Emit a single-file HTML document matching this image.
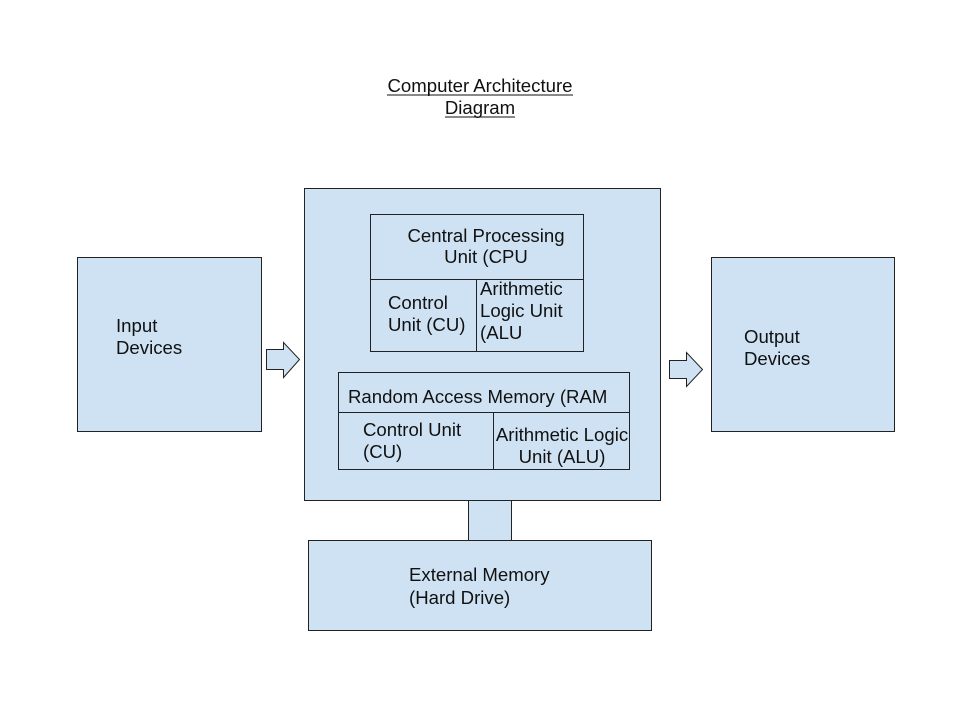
<!DOCTYPE html>
<html><head><meta charset="utf-8"><style>
html,body{margin:0;padding:0;background:#fff;}
svg{display:block;}
text{font-family:"Liberation Sans",Arial,sans-serif;font-size:18.6px;fill:#111;}
</style></head><body>
<svg width="960" height="720" viewBox="0 0 960 720" xmlns="http://www.w3.org/2000/svg">
<g stroke="#222" stroke-width="1" fill="#cfe2f3">
<rect x="304.5" y="188.5" width="356" height="312"/>
<rect x="370.5" y="214.5" width="213" height="137"/>
<line x1="370.5" y1="279.5" x2="583.5" y2="279.5"/>
<line x1="476.5" y1="279.5" x2="476.5" y2="351.5"/>
<rect x="338.5" y="372.5" width="291" height="97"/>
<line x1="338.5" y1="412.5" x2="629.5" y2="412.5"/>
<line x1="493.5" y1="412.5" x2="493.5" y2="469.5"/>
<rect x="468.5" y="500.5" width="43" height="40"/>
<rect x="308.5" y="540.5" width="343" height="90"/>
<rect x="77.5" y="257.5" width="184" height="174"/>
<rect x="711.5" y="257.5" width="183" height="174"/>
<polygon points="266.5,349.5 283.5,349.5 283.5,342.5 299.5,359.5 283.5,377.5 283.5,369.5 266.5,369.5"/>
<polygon points="669.5,360.5 686.5,360.5 686.5,352.5 702.5,369.5 686.5,386.5 686.5,378.5 669.5,378.5"/>
</g>
<text x="480" y="92" text-anchor="middle">Computer Architecture</text>
<text x="480" y="114" text-anchor="middle">Diagram</text>
<line x1="387" y1="95" x2="573" y2="95" stroke="#111" stroke-width="1"/>
<line x1="445" y1="117" x2="515" y2="117" stroke="#111" stroke-width="1"/>
<text x="486" y="242" text-anchor="middle">Central Processing</text>
<text x="486" y="263" text-anchor="middle">Unit (CPU</text>
<text x="388" y="309">Control</text>
<text x="388" y="331">Unit (CU)</text>
<text x="480" y="295">Arithmetic</text>
<text x="480" y="317">Logic Unit</text>
<text x="480" y="339">(ALU</text>
<text x="348" y="403">Random Access Memory (RAM</text>
<text x="363" y="436">Control Unit</text>
<text x="363" y="458">(CU)</text>
<text x="562" y="441" text-anchor="middle">Arithmetic Logic</text>
<text x="562" y="463" text-anchor="middle">Unit (ALU)</text>
<text x="116" y="332">Input</text>
<text x="116" y="354">Devices</text>
<text x="744" y="343">Output</text>
<text x="744" y="365">Devices</text>
<text x="409" y="581">External Memory</text>
<text x="409" y="604">(Hard Drive)</text>
</svg>
</body></html>
